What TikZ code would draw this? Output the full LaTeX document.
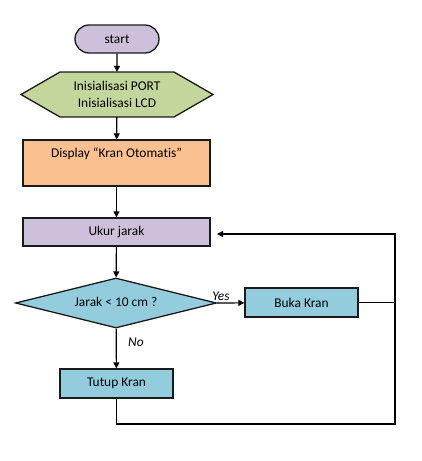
\documentclass[tikz,border=0pt]{standalone}
\usepackage{fontspec}
\setmainfont{Carlito}[RawFeature=-liga]
\usetikzlibrary{shapes.geometric,shapes.misc,arrows.meta}
\definecolor{cpurple}{HTML}{CCC0DA}
\definecolor{cgreen}{HTML}{C3D69B}
\definecolor{corange}{HTML}{FAC090}
\definecolor{cblue}{HTML}{93CDDD}
\definecolor{cedge}{HTML}{1A1A1A}
\begin{document}
\begin{tikzpicture}[x=1pt,y=-1pt,
  box/.style={draw=cedge,line width=1.3pt,inner sep=0pt,font=\fontsize{13.4}{17}\selectfont},
  shapeline/.style={draw=cedge,line width=1.3pt},
  txt/.style={font=\fontsize{13.4}{17}\selectfont,inner sep=0pt},
  conn/.style={draw=black,line width=1.2pt},
  arr/.style={conn,-{Triangle[length=6pt,width=6pt]}},
  lab/.style={font=\fontsize{13.4}{17}\selectfont\itshape,inner sep=0pt}]
\useasboundingbox (0,0) rectangle (421,461);
\node[box,rounded rectangle,fill=cpurple,minimum width=84pt,minimum height=28pt] (start) at (117,39) {start};
\draw[shapeline,fill=cgreen] (21,94.5) -- (60,72) -- (174,72) -- (213,94.5) -- (174,117) -- (60,117) -- cycle;
\node[txt,minimum width=192pt,minimum height=45pt,align=center] (init) at (117,94.5) {Inisialisasi PORT\\Inisialisasi LCD};
\node[box,rectangle,fill=corange,minimum width=187pt,minimum height=46pt] (disp) at (116.5,163) {};
\node[txt] (disptxt) at (116.5,154) {Display “Kran Otomatis”};
\node[box,rectangle,fill=cpurple,minimum width=187pt,minimum height=28pt] (ukur) at (116.5,232) {Ukur jarak};
\node[box,diamond,aspect=4,fill=cblue,minimum width=201pt,minimum height=50pt] (dec) at (116,303) {};
\node[txt] (dectxt) at (116,302) {Jarak < 10 cm ?};
\node[box,rectangle,fill=cblue,minimum width=113pt,minimum height=29pt] (buka) at (301.5,302.5) {Buka Kran};
\node[box,rectangle,fill=cblue,minimum width=113pt,minimum height=29pt] (tutup) at (116.5,383.5) {Tutup Kran};
\coordinate (tr) at (395,234);
\coordinate (br) at (395,424);
\coordinate (bl) at (116.5,424);
\coordinate (ukurin) at (217,234);
\draw[arr] (start) -- (init);
\draw[arr] (init) -- (disp);
\draw[arr] (disp) -- (ukur);
\draw[arr] (ukur) -- (dec);
\draw[arr] (dec.east) -- (buka);
\draw[arr] (dec) -- (tutup);
\draw[conn] (buka.east) -- (395,302.5);
\draw[arr] (tutup.south) -- (bl) -- (br) -- (tr) -- (ukurin);
\node[lab] (yes) at (221,296) {Yes};
\node[lab] (no) at (136,342) {No};
\end{tikzpicture}
\end{document}
